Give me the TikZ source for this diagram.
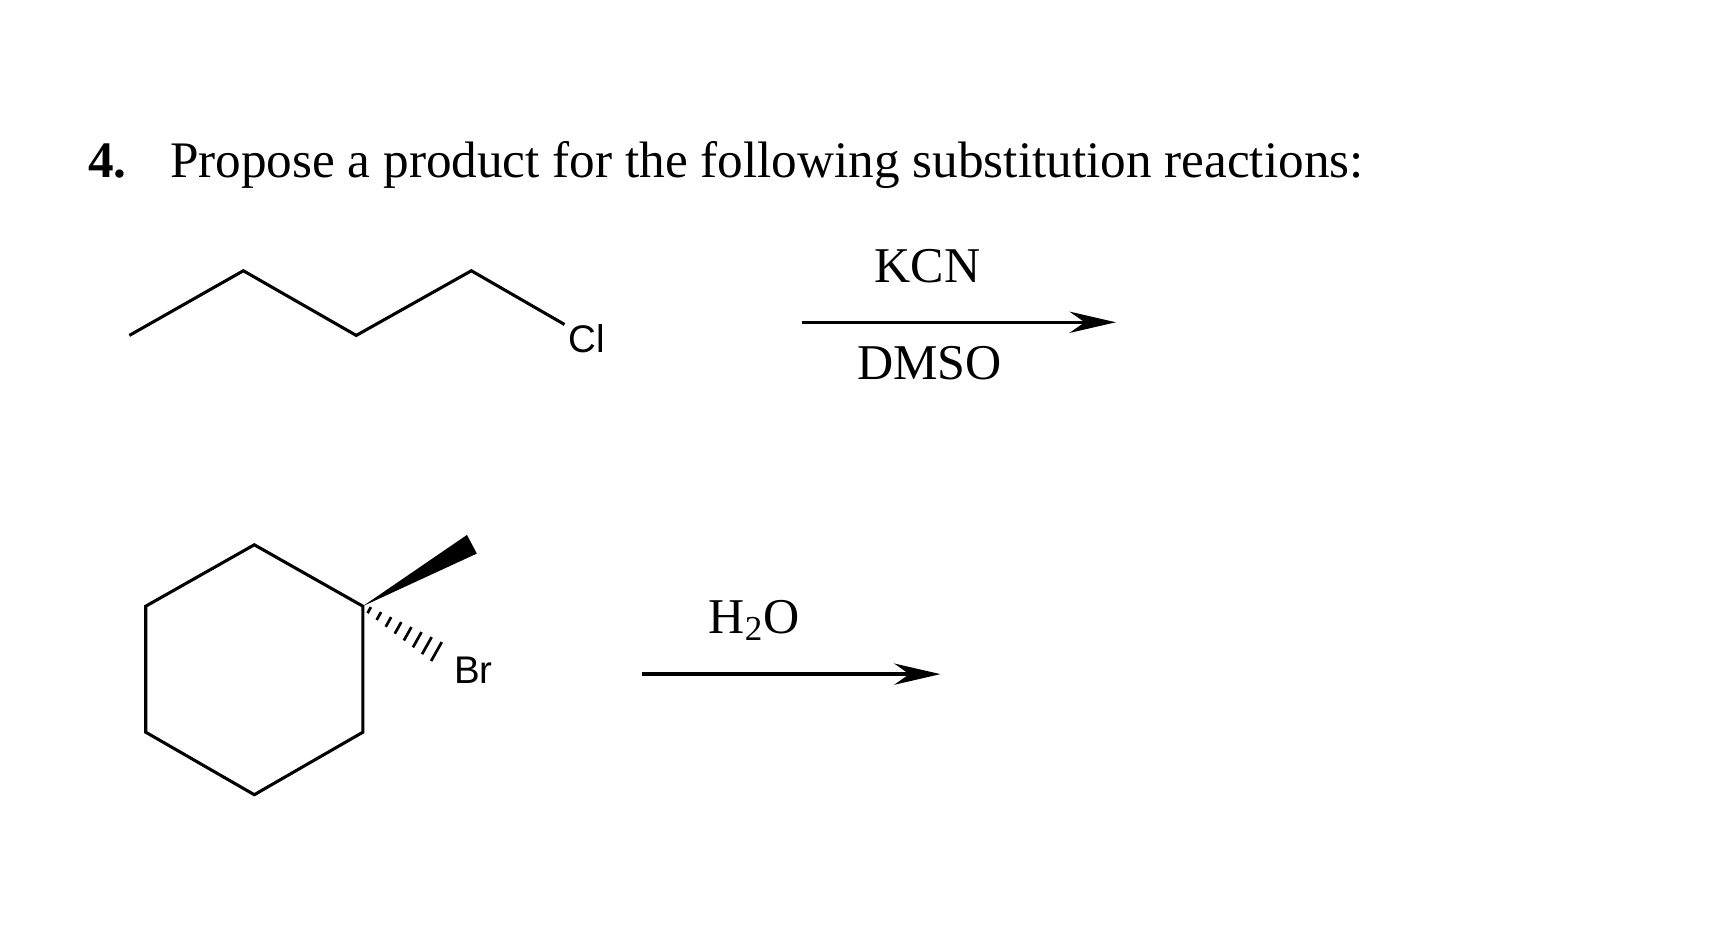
\documentclass[tikz,border=0pt]{standalone}
\usepackage{fontspec}
\setmainfont{Liberation Serif}
\newfontfamily\arial{Liberation Sans}
\usetikzlibrary{arrows.meta,calc}
\begin{document}
\begin{tikzpicture}[x=0.02cm,y=-0.02cm,
  bond/.style={line width=1.6pt,line join=miter},
  rxn/.style={line width=1.8pt,-{Stealth[length=24pt,width=11pt]}},
  reag/.style={font=\fontsize{26}{30}\selectfont},
  atom/.style={font=\arial\fontsize{20}{22}\selectfont,inner sep=0pt}]
\useasboundingbox (0,0) rectangle (1560,845);
\node[anchor=base west,font=\fontsize{26.6}{30}\selectfont,inner sep=0] (title) at (80,162) {\textbf{4.}\hspace{0.85em}Propose a product for the following substitution reactions:};
% chain
\coordinate (c1) at (118,306); \coordinate (c2) at (222,247); \coordinate (c3) at (325,306); \coordinate (c4) at (430,247); \coordinate (c5) at (515,296);
\node[atom] (cl) at (535,309) {Cl};
\draw[bond] (c1)--(c2)--(c3)--(c4)--(c5);
\coordinate (a1s) at (732,294); \coordinate (a1e) at (1018,294);
\draw[rxn] (a1s)--(a1e);
\node[reag] (kcn) at (846,243) {KCN};
\node[reag] (dmso) at (848,331) {DMSO};
% ring
\coordinate (r1) at (232,497); \coordinate (r2) at (331,553); \coordinate (r3) at (331,668);
\coordinate (r4) at (232,725); \coordinate (r5) at (133,668); \coordinate (r6) at (133,553);
\draw[bond] (r1)--(r2)--(r3)--(r4)--(r5)--(r6)--cycle;
\fill (r2) -- (426,488) -- (435,505) -- cycle;
\foreach \t in {0.08,0.2,...,1.0}{
  \path (r2) -- (404,598) coordinate[pos=\t] (h);
  \draw[line width=1.4pt] ($(h)+(-1.2-4*\t,2.2+7*\t)$) -- ($(h)+(1.2+4*\t,-2.2-7*\t)$);
}
\node[atom] (br) at (432,611) {Br};
\coordinate (a2s) at (586,615); \coordinate (a2e) at (858,615);
\draw[rxn] (a2s)--(a2e);
\node[reag] (h2o) at (688,566) {H\textsubscript{2}O};
\end{tikzpicture}
\end{document}
